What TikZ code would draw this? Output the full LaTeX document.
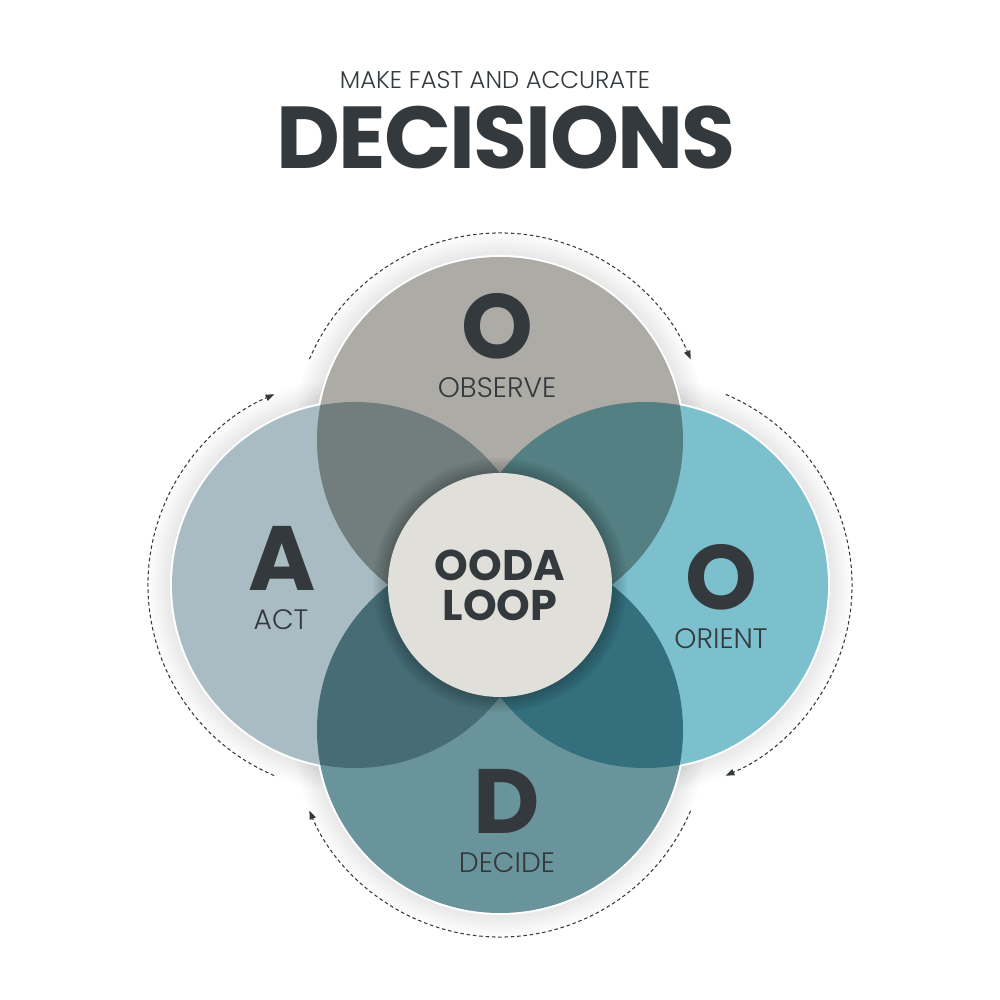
\documentclass[tikz,border=0pt]{standalone}
\usepackage{fontspec}
\setmainfont{Poppins}
\newfontfamily\thinfont{Poppins Light}
\usetikzlibrary{arrows.meta}
\definecolor{obscol}{HTML}{ADABA5}
\definecolor{oricol}{HTML}{7CC0CD}
\definecolor{deccol}{HTML}{6A949B}
\definecolor{actcol}{HTML}{A9BCC3}
\definecolor{hubcol}{HTML}{E1DFDA}
\definecolor{inkcol}{HTML}{33393C}
\tikzset{
  petal/.style={fill=#1, blend mode=multiply},
  bigletter/.style={text=inkcol, inner sep=0, font=\fontsize{26}{26}\selectfont\bfseries},
  petallabel/.style={text=inkcol, inner sep=0, font=\thinfont\fontsize{8}{8}\selectfont},
  cyclearrow/.style={draw=inkcol, line width=.3pt, dash pattern=on 1pt off .8pt,
    -{Triangle[length=2.4pt,width=1.9pt]}},
}
\begin{document}
\begin{tikzpicture}
    \useasboundingbox (-5,-4.15) rectangle (5,5.85);
    \fill[white] (-5,-4.15) rectangle (5,5.85);
    \coordinate (obs) at (0,1.45);
    \coordinate (ori) at (1.45,0);
    \coordinate (dec) at (0,-1.45);
    \coordinate (act) at (-1.45,0);
    \coordinate (hub) at (0,0);
    \foreach \c in {obs,ori,dec,act}
      \foreach \k in {1,...,8}
        \fill[black, opacity=.012] (\c) circle ({1.83+.03*\k});
    \foreach \c in {obs,ori,dec,act}
      \fill[white] (\c) circle (1.85);
    \fill[petal=obscol] (obs) circle (1.83);
    \fill[petal=oricol] (ori) circle (1.83);
    \fill[petal=deccol] (dec) circle (1.83);
    \fill[petal=actcol] (act) circle (1.83);
    \foreach \k in {1,...,6}
      \fill[black, opacity=.04] (hub) circle ({1.12+.025*\k});
    \fill[hubcol] (hub) circle (1.12);
    \draw[cyclearrow] ([shift={(157:2.07)}]obs) arc[start angle=157, end angle=23, radius=2.07];
    \draw[cyclearrow] ([shift={(67:2.07)}]ori) arc[start angle=67, end angle=-67, radius=2.07];
    \draw[cyclearrow] ([shift={(-23:2.07)}]dec) arc[start angle=-23, end angle=-157, radius=2.07];
    \draw[cyclearrow] ([shift={(-113:2.07)}]act) arc[start angle=-113, end angle=-247, radius=2.07];
    \node[text=inkcol, font=\thinfont\fontsize{6.9}{6.9}\selectfont] (tagline) at (-0.05,5.05) {MAKE FAST AND ACCURATE};
    \node[text=inkcol, inner sep=0, font=\fontsize{25}{25}\selectfont\bfseries\addfontfeatures{LetterSpace=-2}] (headline) at (0.06,4.47) {DECISIONS};
    \node[bigletter] (obsletter) at (-0.03,2.59) {O};
    \node[petallabel] (obslabel) at (-0.03,1.97) {OBSERVE};
    \node[bigletter] (oriletter) at (2.21,0.08) {O};
    \node[petallabel] (orilabel) at (2.21,-0.54) {ORIENT};
    \node[bigletter] (decletter) at (0.07,-2.16) {D};
    \node[petallabel] (declabel) at (0.07,-2.78) {DECIDE};
    \node[bigletter] (actletter) at (-2.18,0.27) {A};
    \node[petallabel] (actlabel) at (-2.19,-0.35) {ACT};
    \node[text=inkcol, inner sep=0, align=center, font=\fontsize{12.2}{11.4}\selectfont\bfseries] (hubtext) at (hub) {OODA\\LOOP};
\end{tikzpicture}
\end{document}
